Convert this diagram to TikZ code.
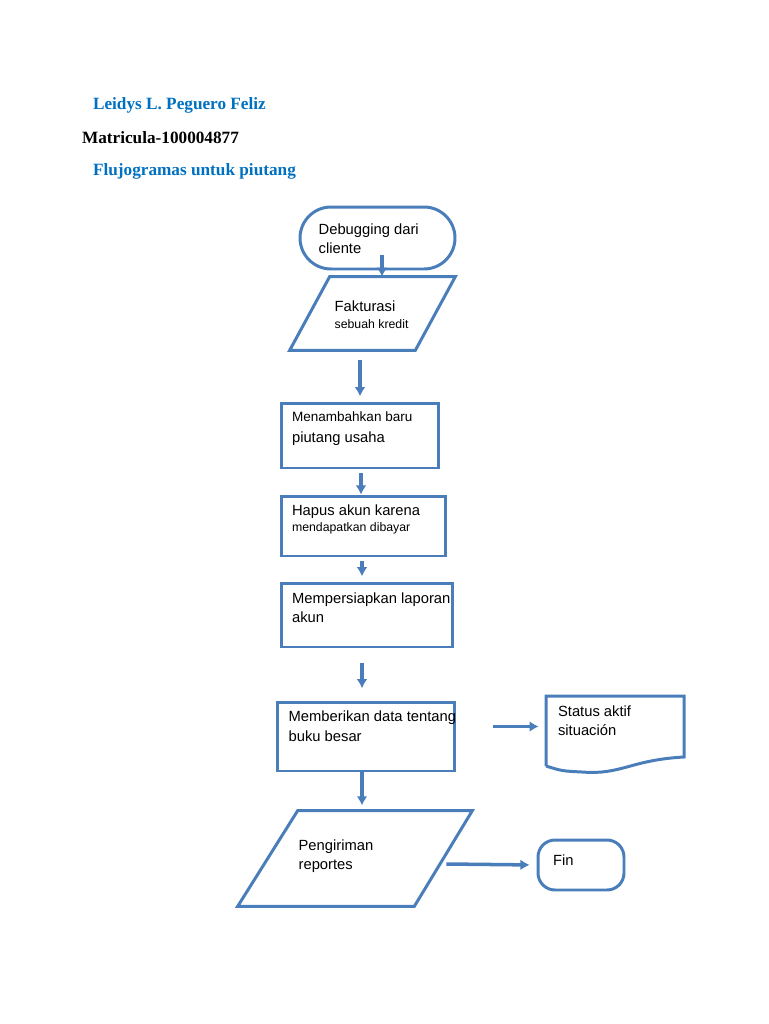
\documentclass[tikz,border=0pt]{standalone}
\usepackage{fontspec}
\setmainfont{Liberation Sans}
\newfontfamily\headfont{Liberation Serif}
\usetikzlibrary{shapes.misc,calc,arrows.meta}
\definecolor{flowblue}{HTML}{4A7EBB}
\definecolor{headblue}{HTML}{0070C0}
\tikzset{
  flow/.style={draw=flowblue,line width=1.7pt},
  terminal/.style={flow,rounded rectangle,inner sep=0pt},
  iobox/.style={rectangle,inner sep=0pt},
  procbox/.style={flow,rectangle,inner sep=0pt},
  txt/.style={anchor=base west,inner sep=0pt,font=\fontsize{8.4}{10}\selectfont},
  smalltxt/.style={txt,font=\fontsize{7}{9}\selectfont},
  head/.style={anchor=base west,inner sep=0pt,font=\headfont\bfseries\fontsize{9.8}{12}\selectfont},
  link/.style={draw=flowblue,line width=2pt,->},
}
\begin{document}
\begin{tikzpicture}[x=0.02cm,y=-0.02cm,>={Latex[length=5.2pt,width=6.2pt]}]
            \useasboundingbox (0,0) rectangle (768,1024);

            % heading
            \node[head,text=headblue] (name) at (92.7,110) {Leidys L. Peguero Feliz};
            \node[head] (matric) at (81.7,143.3) {Matricula-100004877};
            \node[head,text=headblue] (title) at (92.7,175) {Flujogramas untuk piutang};

            % draw the shapes
            \node[terminal,minimum width=3.1cm,minimum height=1.24cm] (start) at (377.5,238) {};
            \node[iobox,minimum width=3.3cm,minimum height=1.46cm] (inv) at (372.5,313.5) {};
            \draw[flow] (inv.south west) -- ($(inv.north west)+(40,0)$) -- (inv.north east)
                -- ($(inv.south east)+(-40,0)$) -- cycle;
            \node[procbox,minimum width=3.16cm,minimum height=1.3cm] (newar) at (360,435.5) {};
            \node[procbox,minimum width=3.3cm,minimum height=1.2cm] (writeoff) at (363.5,526) {};
            \node[procbox,minimum width=3.44cm,minimum height=1.28cm] (report) at (367,615) {};
            \node[procbox,minimum width=3.56cm,minimum height=1.38cm] (ledger) at (366,736.5) {};
            \node[inner sep=0pt,minimum width=2.76cm,minimum height=1.42cm] (status) at (615,731) {};
            \draw[flow] (546,766) -- (546,696) -- (684,696) -- (684,757)
                .. controls (630,760) and (622,775) .. (582,772)
                .. controls (562,771) .. (546,766);
            \node[iobox,minimum width=4.68cm,minimum height=1.9cm] (send) at (355,858.5) {};
            \draw[flow] (send.south west) -- ($(send.north west)+(60,0)$) -- (send.north east)
                -- ($(send.south east)+(-58,0)$) -- cycle;
            \node[flow,rounded corners=0.34cm,minimum width=1.72cm,minimum height=1cm,inner sep=0pt] (fin) at (581,865) {};

            % text in the shapes
            \node[txt] (startA) at (318.3,234.3) {Debugging dari};
            \node[txt] (startB) at (318.3,253) {cliente};
            \node[txt] (invA) at (334.3,311.7) {Fakturasi};
            \node[smalltxt] (invB) at (334.3,328) {sebuah kredit};
            \node[txt,font=\fontsize{7.7}{9}\selectfont] (newarA) at (291.7,421.7) {Menambahkan baru};
            \node[txt] (newarB) at (291.7,442.3) {piutang usaha};
            \node[txt] (writeoffA) at (291.7,515) {Hapus akun karena};
            \node[smalltxt] (writeoffB) at (291.7,531.7) {mendapatkan dibayar};
            \node[txt] (reportA) at (291.7,603.3) {Mempersiapkan laporan};
            \node[txt] (reportB) at (291.7,622.3) {akun};
            \node[txt] (ledgerA) at (288.3,721.7) {Memberikan data tentang};
            \node[txt] (ledgerB) at (288.3,741.7) {buku besar};
            \node[txt] (statusA) at (557.7,716) {Status aktif};
            \node[txt] (statusB) at (557.7,735) {situación};
            \node[txt] (sendA) at (298.3,850) {Pengiriman};
            \node[txt] (sendB) at (298.3,869.3) {reportes};
            \node[txt] (finA) at (552.7,865) {Fin};

            % arrows
            \coordinate (a1) at ($(start.south)+(4.5,-15)$);
            \draw[link] (a1) -- (a1 |- inv.north);
            \coordinate (a2) at ($(inv.south)+(-12.5,10)$);
            \draw[link,shorten >=3pt] (a2) -- (a2 |- newar.north);
            \coordinate (a3) at ($(newar.south)+(1,4)$);
            \draw[link] (a3) -- (a3 |- writeoff.north);
            \coordinate (a4) at ($(writeoff.south)+(-1.5,4)$);
            \draw[link,shorten >=3pt] (a4) -- (a4 |- report.north);
            \coordinate (a5) at ($(report.south)+(-5,15)$);
            \draw[link,shorten >=7pt] (a5) -- (a5 |- ledger.north);
            \coordinate (a6) at ($(ledger.south)+(-4,0)$);
            \draw[link,shorten >=3pt] (a6) -- (a6 |- send.north);
            \coordinate (a7) at ($(ledger.east)+(37,-10)$);
            \draw[link,shorten >=4pt] (a7) -- (a7 -| status.west);
            \draw[link,shorten >=4pt] ($(send.east)+(-26,5.5)$) -- (fin.west);
        \end{tikzpicture}
\end{document}
